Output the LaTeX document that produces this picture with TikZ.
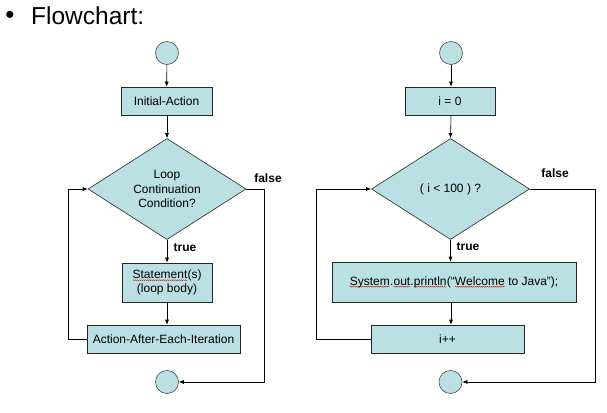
\documentclass[tikz,border=0pt]{standalone}
\usepackage{fontspec}
\setmainfont{Liberation Sans}
\usetikzlibrary{shapes.geometric,arrows.meta,decorations.pathmorphing}
\definecolor{boxfill}{RGB}{186,224,227}
\newcommand{\squig}[1]{\tikz[baseline=(sq.base)]{\node[shape=rectangle,inner sep=0pt,outer sep=0pt,minimum width=0pt,minimum height=0pt,anchor=base,draw=none,fill=none] (sq) {#1}; \draw[red!85!black, line width=0.35pt, decorate, decoration={snake,amplitude=0.45pt,segment length=2pt}] ([yshift=-1.6pt]sq.base west) -- ([yshift=-1.6pt]sq.base east);}}
\begin{document}
\begin{tikzpicture}[x=1pt,y=-1pt,
  box/.style={draw=black!85, fill=boxfill, line width=0.6pt, inner sep=0pt, align=center, font=\fontsize{12}{14}\selectfont},
  term/.style={circle, draw=black!70, fill=boxfill, line width=0.6pt, minimum size=23pt, inner sep=0pt},
  dec/.style={diamond, draw=black!85, fill=boxfill, line width=0.6pt, inner sep=0pt, minimum width=158pt, minimum height=101pt, aspect=1.56, align=center, font=\fontsize{12}{14.5}\selectfont},
  lbl/.style={font=\bfseries\fontsize{12}{14}\selectfont, inner sep=0pt},
  arr/.style={-{Latex[length=5pt,width=4pt]}, line width=0.6pt, draw=black}]

\useasboundingbox[fill=white] (0,0) rectangle (607,412);

% title
\node[font=\fontsize{26}{30}\selectfont, inner sep=0pt] (bullet) at (10,17) {•};
\node[anchor=base west, font=\fontsize{24.5}{28}\selectfont, inner sep=0pt] (title) at (31,24.5) {Flowchart:};

% left chart
\node[term] (s1) at (167,53) {};
\node[box, minimum width=91pt, minimum height=28pt] (init1) at (166.5,101) {Initial-Action};
\node[dec] (cond1) at (167,189) {Loop\\Continuation\\Condition?};
\node[box, minimum width=90pt, minimum height=39pt] (body1) at (167,282.5) {\squig{Statement}(s)\\(loop body)};
\node[box, minimum width=153pt, minimum height=28pt] (after1) at (163.5,339) {Action-After-Each-Iteration};
\node[term] (e1) at (167,382) {};

\draw[arr] (s1) -- (init1);
\draw[arr] (init1.south -| s1) -- (cond1.north);
\draw[arr] (cond1.south) -- (body1.north -| cond1.south);
\draw[arr] (body1.south -| s1) -- (after1.north -| s1);
\draw[arr] (after1.west) -- ++(-18,0) |- (cond1.west);
\draw[arr] (cond1.east) -- ++(18,0) |- (e1.east);
\node[lbl] (f1) at (268,178) {false};
\node[lbl] (t1) at (185,248) {true};

% right chart
\node[term] (s2) at (451,53) {};
\node[box, minimum width=90pt, minimum height=28pt] (init2) at (450,101) {i = 0};
\node[dec] (cond2) at (450.5,189) {( i < 100 ) ?};
\node[box, minimum width=244pt, minimum height=40pt] (body2) at (454,282) {\squig{System}.\squig{out}.\squig{println}(“\squig{Welcome} to Java”);};
\node[box, minimum width=153pt, minimum height=28pt] (inc2) at (447.5,339) {i++};
\node[term] (e2) at (450.5,382) {};

\draw[arr] (s2) -- (init2.north -| s2);
\draw[arr] (init2.south -| s2) -- (cond2.north);
\draw[arr] (cond2.south) -- (body2.north -| cond2.south);
\draw[arr] (body2.south -| s2) -- (inc2.north -| s2);
\draw[arr] (inc2.west) -- ++(-54,0) |- (cond2.west);
\draw[arr] (cond2.east) -- ++(65,0) |- (e2.east);
\node[lbl] (f2) at (555,173) {false};
\node[lbl] (t2) at (468,247) {true};
\end{tikzpicture}
\end{document}
